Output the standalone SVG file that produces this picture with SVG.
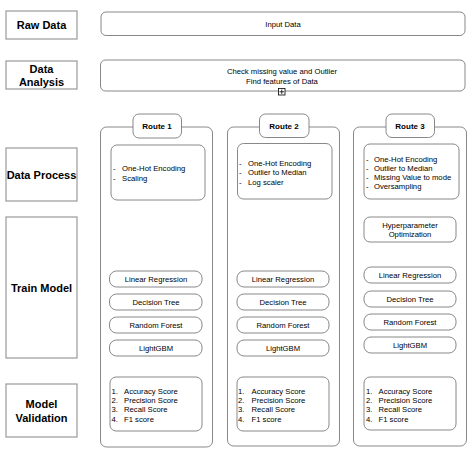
<svg xmlns="http://www.w3.org/2000/svg" width="474" height="456" viewBox="0 0 474 456">
<style>
.lab{fill:#fff;stroke:#9a9a9a;stroke-width:1.2}
.box{fill:#fff;stroke:#7a7a7a;stroke-width:0.9}
.pill{fill:#fff;stroke:#7a7a7a;stroke-width:0.9}
.bt{font-family:"Liberation Sans",Arial,sans-serif;font-weight:bold;font-size:11px;fill:#000;text-anchor:middle}
.tt{font-family:"Liberation Sans",Arial,sans-serif;font-weight:bold;font-size:8px;fill:#000;text-anchor:middle}
.t{font-family:"Liberation Sans",Arial,sans-serif;font-size:7.7px;fill:#000}
.c{text-anchor:middle}
</style>
<rect width="474" height="456" fill="#fff"/>
<g id="label-raw"><rect class="lab" x="6" y="11" width="71" height="28"/><text class="bt" x="41.5" y="29">Raw Data</text></g>
<g id="label-analysis"><rect class="lab" x="6" y="61" width="71" height="28"/><text class="bt" x="41.5" y="73">Data</text><text class="bt" x="41.5" y="86">Analysis</text></g>
<g id="label-process"><rect class="lab" x="6" y="148" width="71" height="53"/><text class="bt" x="41.5" y="179">Data Process</text></g>
<g id="label-train"><rect class="lab" x="6" y="217" width="71" height="141"/><text class="bt" x="41.5" y="292">Train Model</text></g>
<g id="label-validation"><rect class="lab" x="6" y="384" width="71" height="53"/><text class="bt" x="41.5" y="408">Model</text><text class="bt" x="41.5" y="422">Validation</text></g>

<g id="input-data"><rect class="box" x="101" y="12" width="364" height="23.5" rx="5"/><text class="t c" x="283" y="27">Input Data</text></g>
<g id="data-analysis"><rect class="box" x="100.5" y="60" width="364.5" height="31" rx="5"/><text class="t c" x="282" y="73.5">Check missing value and Outlier</text><text class="t c" x="282" y="83.5">Find features of Data</text>
<rect x="278.5" y="88.5" width="6.5" height="6.5" fill="#fff" stroke="#000" stroke-width="0.8"/><path d="M281.75 89.5V94M279.5 91.75H284" stroke="#000" stroke-width="0.8"/></g>

<g id="route1">
<rect class="box" x="100.5" y="127" width="112" height="320" rx="6"/>
<rect class="box" x="133" y="114" width="48.5" height="24" rx="6"/><text class="tt" x="157" y="129">Route 1</text>
<rect class="box" x="111" y="145" width="94" height="55" rx="6"/>
<text class="t" x="113" y="171">-</text><text class="t" x="122" y="171">One-Hot Encoding</text>
<text class="t" x="113" y="181">-</text><text class="t" x="122" y="181">Scaling</text>
<rect class="pill" x="109.5" y="271" width="92.5" height="16" rx="7"/><text class="t c" x="156" y="282">Linear Regression</text>
<rect class="pill" x="109.5" y="294" width="92.5" height="16" rx="7"/><text class="t c" x="156" y="305">Decision Tree</text>
<rect class="pill" x="109.5" y="317" width="92.5" height="16" rx="7"/><text class="t c" x="156" y="328">Random Forest</text>
<rect class="pill" x="109.5" y="340" width="92.5" height="16" rx="7"/><text class="t c" x="156" y="351">LightGBM</text>
<rect class="box" x="110" y="377" width="92" height="54" rx="6"/>
<text class="t" x="111.5" y="394">1.</text><text class="t" x="124" y="394">Accuracy Score</text>
<text class="t" x="111.5" y="403">2.</text><text class="t" x="124" y="403">Precision Score</text>
<text class="t" x="111.5" y="412">3.</text><text class="t" x="124" y="412">Recall Score</text>
<text class="t" x="111.5" y="421.5">4.</text><text class="t" x="124" y="421.5">F1 score</text>
</g>

<g id="route2">
<rect class="box" x="227.5" y="127" width="112" height="319" rx="6"/>
<rect class="box" x="259.5" y="114" width="49.5" height="23.5" rx="6"/><text class="tt" x="284" y="129">Route 2</text>
<rect class="box" x="237.5" y="143.5" width="94.5" height="55.5" rx="6"/>
<text class="t" x="239" y="165.5">-</text><text class="t" x="248" y="165.5">One-Hot Encoding</text>
<text class="t" x="239" y="175">-</text><text class="t" x="248" y="175">Outlier to Median</text>
<text class="t" x="239" y="184.5">-</text><text class="t" x="248" y="184.5">Log scaler</text>
<rect class="pill" x="237" y="271" width="92" height="16" rx="7"/><text class="t c" x="283" y="282">Linear Regression</text>
<rect class="pill" x="237" y="294" width="92" height="16" rx="7"/><text class="t c" x="283" y="305">Decision Tree</text>
<rect class="pill" x="237" y="317" width="92" height="16" rx="7"/><text class="t c" x="283" y="328">Random Forest</text>
<rect class="pill" x="237" y="340" width="92" height="16" rx="7"/><text class="t c" x="283" y="351">LightGBM</text>
<rect class="box" x="237" y="377" width="92" height="54" rx="6"/>
<text class="t" x="238" y="394">1.</text><text class="t" x="251.5" y="394">Accuracy Score</text>
<text class="t" x="238" y="403">2.</text><text class="t" x="251.5" y="403">Precision Score</text>
<text class="t" x="238" y="412">3.</text><text class="t" x="251.5" y="412">Recall Score</text>
<text class="t" x="238" y="421.5">4.</text><text class="t" x="251.5" y="421.5">F1 score</text>
</g>

<g id="route3">
<rect class="box" x="353.5" y="127" width="113" height="319" rx="6"/>
<rect class="box" x="386" y="114" width="48.5" height="23.5" rx="6"/><text class="tt" x="410" y="129">Route 3</text>
<rect class="box" x="364" y="144" width="95" height="55" rx="6"/>
<text class="t" x="366" y="161.5">-</text><text class="t" x="374" y="161.5">One-Hot Encoding</text>
<text class="t" x="366" y="170.5">-</text><text class="t" x="374" y="170.5">Outlier to Median</text>
<text class="t" x="366" y="179.5">-</text><text class="t" x="374" y="179.5">Missing Value to mode</text>
<text class="t" x="366" y="188.5">-</text><text class="t" x="374" y="188.5">Oversampling</text>
<rect class="box" x="364" y="217" width="92" height="25" rx="6"/><text class="t c" x="410" y="227.5">Hyperparameter</text><text class="t c" x="410" y="237">Optimization</text>
<rect class="pill" x="364" y="267" width="92" height="16" rx="7"/><text class="t c" x="410" y="278">Linear Regression</text>
<rect class="pill" x="364" y="291" width="92" height="16" rx="7"/><text class="t c" x="410" y="302">Decision Tree</text>
<rect class="pill" x="364" y="314" width="92" height="16" rx="7"/><text class="t c" x="410" y="325">Random Forest</text>
<rect class="pill" x="364" y="337" width="92" height="16" rx="7"/><text class="t c" x="410" y="348">LightGBM</text>
<rect class="box" x="364" y="377" width="92" height="53" rx="6"/>
<text class="t" x="366" y="394">1.</text><text class="t" x="378.5" y="394">Accuracy Score</text>
<text class="t" x="366" y="403">2.</text><text class="t" x="378.5" y="403">Precision Score</text>
<text class="t" x="366" y="412">3.</text><text class="t" x="378.5" y="412">Recall Score</text>
<text class="t" x="366" y="421.5">4.</text><text class="t" x="378.5" y="421.5">F1 score</text>
</g>
<g id="connectors"></g>
</svg>
